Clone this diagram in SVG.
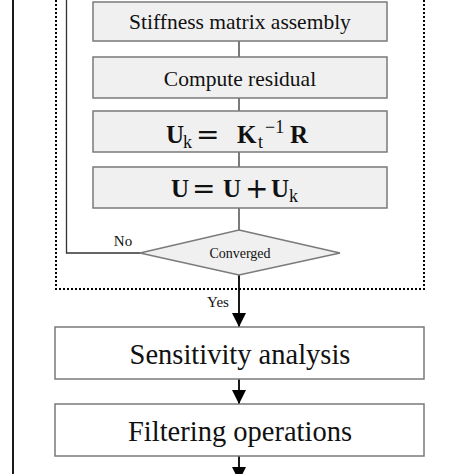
<svg xmlns="http://www.w3.org/2000/svg" width="474" height="474" viewBox="0 0 474 474">
<style>
.gbox{fill:#f0f0f0;stroke:#7a7a7a;stroke-width:1.5}
.wbox{fill:#ffffff;stroke:#7a7a7a;stroke-width:1.5}
.t{font-family:"Liberation Serif","Times New Roman",serif;fill:#111;text-anchor:middle}
.m{font-family:"Liberation Serif","Times New Roman",serif;fill:#111;font-weight:bold;font-size:25px}
.ms{font-weight:normal;font-size:18px}
.op{font-family:"DejaVu Sans",sans-serif;font-weight:normal;font-size:28px}
.thin{stroke:#333;stroke-width:1.3;fill:none}
.arr{stroke:#000;stroke-width:1.8;fill:none;marker-end:url(#ah)}
</style>
<defs>
<marker id="ah" markerUnits="userSpaceOnUse" markerWidth="16" markerHeight="16" refX="14" refY="7" orient="auto">
<path d="M0,0 L14,7 L0,14 Z" fill="#000"/>
</marker>
</defs>
<rect x="0" y="0" width="474" height="474" fill="#fff"/>
<line x1="13" y1="0" x2="13" y2="474" stroke="#000" stroke-width="1.8"/>
<path d="M56,0 V289 H424 V0" fill="none" stroke="#000" stroke-width="2" stroke-dasharray="2 2"/>
<g id="connectors">
<line class="thin" x1="239" y1="41" x2="239" y2="57"/>
<line class="thin" x1="239" y1="98" x2="239" y2="111"/>
<line class="thin" x1="239" y1="152" x2="239" y2="167"/>
<line class="thin" x1="239" y1="208" x2="239" y2="230"/>
<path class="thin" d="M140,253 H66.5 V0" stroke="#555"/>
<line class="arr" x1="239" y1="275" x2="239" y2="327"/>
<line class="arr" x1="239" y1="379" x2="239" y2="404"/>
<line class="arr" x1="239" y1="456" x2="239" y2="481"/>
<text class="t" x="123" y="246" font-size="15">No</text>
<text class="t" x="218" y="307" font-size="15">Yes</text>
</g>
<g id="stiffness">
<rect class="gbox" x="93" y="2" width="294" height="39"/>
<text class="t" x="240" y="29" font-size="21.5">Stiffness matrix assembly</text>
</g>
<g id="residual">
<rect class="gbox" x="93" y="57" width="294" height="41"/>
<text class="t" x="240" y="86" font-size="21.5">Compute residual</text>
</g>
<g id="solve">
<rect class="gbox" x="93" y="111" width="294" height="41"/>
<text class="m" y="143"><tspan x="166">U</tspan><tspan class="ms" x="183" y="148">k</tspan><tspan class="op" x="196" y="144">=</tspan><tspan x="237" y="143">K</tspan><tspan class="ms" x="258" y="148">t</tspan><tspan class="ms" x="265" y="133">−1</tspan><tspan x="290" y="143">R</tspan></text>
</g>
<g id="update">
<rect class="gbox" x="93" y="167" width="294" height="41"/>
<text class="m" y="197"><tspan x="171">U</tspan><tspan class="op" x="192" y="198">=</tspan><tspan x="223" y="197">U</tspan><tspan class="op" x="245" y="198">+</tspan><tspan x="271" y="197">U</tspan><tspan class="ms" x="289" y="202">k</tspan></text>
</g>
<g id="converged">
<polygon class="gbox" points="239,230 340,253 239,275 140,253"/>
<text class="t" x="240" y="258" font-size="14">Converged</text>
</g>
<g id="sensitivity">
<rect class="wbox" x="55" y="327" width="369" height="52"/>
<text class="t" x="240" y="364" font-size="28.5">Sensitivity analysis</text>
</g>
<g id="filtering">
<rect class="wbox" x="55" y="404" width="369" height="52"/>
<text class="t" x="240" y="441" font-size="28.5">Filtering operations</text>
</g>
</svg>
